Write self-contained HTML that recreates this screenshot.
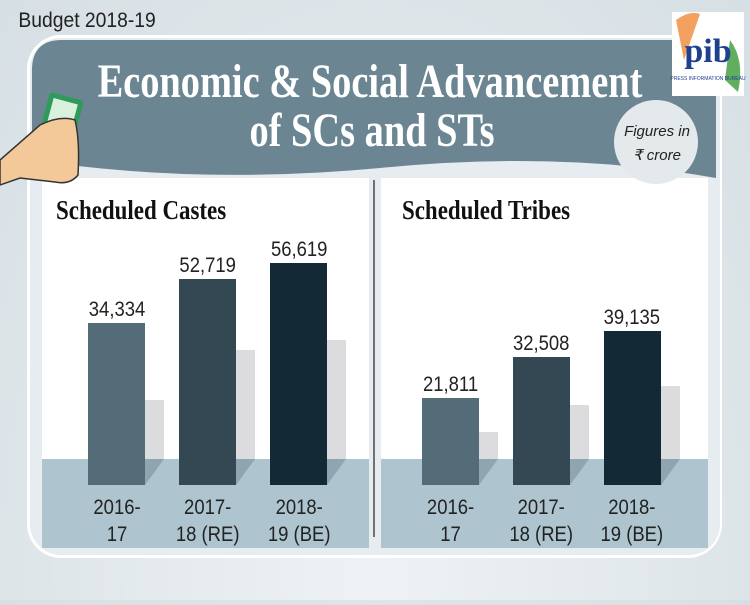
<!DOCTYPE html>
<html><head><meta charset="utf-8"><style>
body{margin:0;width:750px;height:600px;overflow:hidden;background:radial-gradient(ellipse at 50% 95%,#eef2f4,#d6dfe4);font-family:"Liberation Sans",sans-serif;}
</style></head><body>
<svg width="750" height="600" viewBox="0 0 750 600" xmlns="http://www.w3.org/2000/svg">
<text x="20" y="27" font-size="21" fill="#222" font-family="Liberation Sans" transform="scale(0.92,1)" >Budget 2018-19</text>
<rect x="27" y="35" width="695" height="523" rx="34" fill="#fff"/>
<rect x="30" y="38" width="690" height="517" rx="31" fill="#e6ecef"/>
<path d="M32 70 Q32 40 62 40 L716 40 L716 185 L32 185 Z" fill="#6b8692"/>
<path d="M32 160 Q200 185 380 168 Q560 150 716 178 L716 188 L32 188 Z" fill="#e6ecef"/>
<rect x="42" y="178" width="327" height="370" fill="#fff"/>
<rect x="381" y="178" width="327" height="370" fill="#fff"/>
<rect x="42" y="459" width="327" height="89" fill="#aec4cf"/>
<rect x="381" y="459" width="327" height="89" fill="#aec4cf"/>
<line x1="374" y1="180" x2="374" y2="537" stroke="#222" stroke-width="1.2"/>
<g font-family="Liberation Serif" font-weight="bold" fill="#fff" text-anchor="middle">
<text x="370" y="97" font-size="48" transform="translate(370,0) scale(0.8,1) translate(-370,0)">Economic &amp; Social Advancement</text>
<text x="372" y="146" font-size="48" transform="translate(372,0) scale(0.8,1) translate(-372,0)">of SCs and STs</text>
</g>
<circle cx="656" cy="142" r="42" fill="#e4e9ec"/>
<text x="657" y="136" font-size="15" font-style="italic" text-anchor="middle" fill="#222">Figures in</text>
<text x="657" y="160" font-size="15" font-style="italic" text-anchor="middle" fill="#222">₹ crore</text>
<rect x="672" y="12" width="72" height="84" fill="#fff"/>
<path d="M676 20 Q690 10 700 14 L684 60 Z" fill="#f08a3a" opacity="0.8"/>
<path d="M730 40 Q745 60 738 92 L725 80 Z" fill="#3a9a3a" opacity="0.8"/>
<text x="708" y="62" font-size="34" font-weight="bold" fill="#1f3f8f" text-anchor="middle" font-family="Liberation Serif">pib</text>
<text x="708" y="80" font-size="5" fill="#1f3f8f" text-anchor="middle">PRESS INFORMATION BUREAU</text>
<!-- hand -->
<g>
<rect x="40" y="95" width="35" height="75" rx="3" fill="#2f9a5a" transform="rotate(15 57 132)"/>
<rect x="45" y="100" width="25" height="65" fill="#d8f0dc" transform="rotate(15 57 132)"/>
<path d="M0 160 L40 125 Q60 115 75 120 Q80 140 78 175 Q70 185 55 182 L20 178 L0 185 Z" fill="#f4c99a" stroke="#333" stroke-width="1.5"/>
</g>
<g font-family="Liberation Serif" font-weight="bold" fill="#111" font-size="27">
<text x="56" y="219" transform="translate(56,0) scale(0.85,1) translate(-56,0)">Scheduled Castes</text>
<text x="402" y="219" transform="translate(402,0) scale(0.85,1) translate(-402,0)">Scheduled Tribes</text>
</g>
<g fill="#dcdcde">
<rect x="145" y="400" width="19" height="59"/><rect x="236" y="350" width="19" height="109"/><rect x="327" y="340" width="19" height="119"/>
<rect x="479" y="432" width="19" height="27"/><rect x="570" y="405" width="19" height="54"/><rect x="661" y="386" width="19" height="73"/>
</g>
<g fill="#8fa6b1">
<path d="M145 459 L164 459 L145 485Z"/><path d="M236 459 L255 459 L236 485Z"/><path d="M327 459 L346 459 L327 485Z"/>
<path d="M479 459 L498 459 L479 485Z"/><path d="M570 459 L589 459 L570 485Z"/><path d="M661 459 L680 459 L661 485Z"/>
</g>
<rect x="88" y="323" width="57" height="162" fill="#546b78"/>
<rect x="179" y="279" width="57" height="206" fill="#334852"/>
<rect x="270" y="263" width="57" height="222" fill="#132935"/>
<rect x="422" y="398" width="57" height="87" fill="#546b78"/>
<rect x="513" y="357" width="57" height="128" fill="#334852"/>
<rect x="604" y="331" width="57" height="154" fill="#132935"/>
<g font-size="21" fill="#222" text-anchor="middle">
<g transform="scale(0.88,1)">
<text x="133" y="316">34,334</text><text x="236" y="272">52,719</text><text x="340" y="256">56,619</text>
<text x="512" y="391">21,811</text><text x="615" y="350">32,508</text><text x="718" y="324">39,135</text>
<text x="133" y="514">2016-</text><text x="236" y="514">2017-</text><text x="340" y="514">2018-</text>
<text x="133" y="541">17</text><text x="236" y="541">18 (RE)</text><text x="340" y="541">19 (BE)</text>
<text x="512" y="514">2016-</text><text x="615" y="514">2017-</text><text x="718" y="514">2018-</text>
<text x="512" y="541">17</text><text x="615" y="541">18 (RE)</text><text x="718" y="541">19 (BE)</text>
</g></g>
</svg>
</body></html>
